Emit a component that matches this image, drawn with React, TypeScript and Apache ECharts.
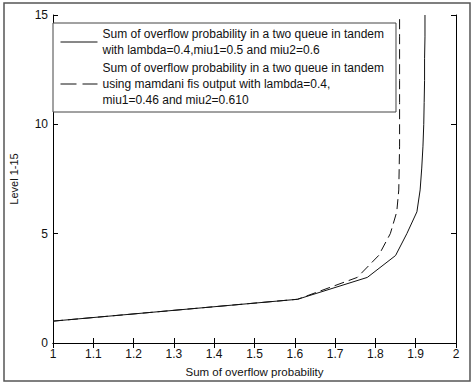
import React, { useEffect, useRef } from "react";
import * as echarts from "echarts";

const levels = [1, 2, 3, 4, 5, 6, 7, 8, 9, 10, 11, 12, 13, 14, 15];
const solidX = [1.0, 1.607, 1.78, 1.85, 1.878, 1.903, 1.911, 1.915, 1.918, 1.92, 1.921, 1.922, 1.922, 1.923, 1.923];
const dashedX = [1.0, 1.607, 1.755, 1.808, 1.837, 1.853, 1.858, 1.859, 1.86, 1.86, 1.86, 1.86, 1.86, 1.86, 1.86];
const solidName =
  "Sum of overflow probability in a two queue in tandem\nwith lambda=0.4,miu1=0.5 and miu2=0.6";
const dashedName =
  "Sum of overflow probability in a two queue in tandem\nusing mamdani fis output with lambda=0.4,\nmiu1=0.46 and miu2=0.610";
const xTitle = "Sum of overflow probability";
const yTitle = "Level 1-15";

const FONT = "'Liberation Sans', Arial, sans-serif";

export default function App() {
  const ref = useRef<HTMLDivElement>(null);
  useEffect(() => {
    document.body.style.margin = "0";
    const chart = echarts.init(ref.current!, undefined, { renderer: "svg" });
    const axisLine = { show: true, lineStyle: { color: "#000", width: 1 } };
    const axisTickIn = { show: true, inside: true, length: 5, lineStyle: { color: "#000" } };
    const labelStyle = { color: "#111", fontSize: 12, fontFamily: FONT };
    chart.setOption({
      animation: false,
      backgroundColor: "#fff",
      grid: { left: 51, top: 15, right: 18, bottom: 44, containLabel: false },
      xAxis: [
        {
          type: "value",
          min: 1,
          max: 2,
          interval: 0.1,
          position: "bottom",
          axisLine,
          axisTick: axisTickIn,
          splitLine: { show: false },
          axisLabel: { ...labelStyle, margin: 5 },
          name: xTitle,
          nameLocation: "middle",
          nameGap: 23,
          nameTextStyle: { color: "#111", fontSize: 11.5, fontFamily: FONT },
        },
        {
          type: "value",
          min: 1,
          max: 2,
          interval: 0.1,
          position: "top",
          axisLine,
          axisTick: axisTickIn,
          splitLine: { show: false },
          axisLabel: { show: false },
        },
      ],
      yAxis: [
        {
          type: "value",
          min: 0,
          max: 15,
          interval: 5,
          position: "left",
          axisLine,
          axisTick: axisTickIn,
          splitLine: { show: false },
          axisLabel: { ...labelStyle, margin: 5 },
          name: yTitle,
          nameLocation: "middle",
          nameGap: 34,
          nameRotate: 90,
          nameTextStyle: { color: "#111", fontSize: 11, fontFamily: FONT },
        },
        {
          type: "value",
          min: 0,
          max: 15,
          interval: 5,
          position: "right",
          axisLine,
          axisTick: axisTickIn,
          splitLine: { show: false },
          axisLabel: { show: false },
        },
      ],
      legend: {
        orient: "vertical",
        left: 53,
        top: 23,
        padding: [3, 12, 4, 7],
        itemWidth: 37,
        itemHeight: 12,
        itemGap: 2,
        backgroundColor: "#fff",
        borderColor: "#444",
        borderWidth: 1,
        borderRadius: 0,
        itemStyle: { opacity: 0 },
        lineStyle: { width: 1, color: "#111" },
        textStyle: { color: "#111", fontSize: 12, lineHeight: 16, fontFamily: FONT },
        data: [
          { name: solidName },
          { name: dashedName, lineStyle: { width: 1, color: "#111", type: [16, 6] } },
        ],
      },
      series: [
        {
          name: solidName,
          type: "line",
          symbol: "none",
          data: levels.map((l, i) => [solidX[i], l]),
          lineStyle: { color: "#111", width: 1, type: "solid" },
          itemStyle: { color: "#111" },
        },
        {
          name: dashedName,
          type: "line",
          symbol: "none",
          data: levels.map((l, i) => [dashedX[i], l]),
          lineStyle: { color: "#111", width: 1, type: [10, 5] },
          itemStyle: { color: "#111" },
        },
      ],
      graphic: [
        {
          type: "rect",
          shape: { x: 4, y: 3, width: 466, height: 378 },
          style: { fill: "none", stroke: "#555", lineWidth: 1.5 },
          silent: true,
        },
      ],
    });
    return () => chart.dispose();
  }, []);
  return <div ref={ref} style={{ width: 474, height: 387 }} />;
}
